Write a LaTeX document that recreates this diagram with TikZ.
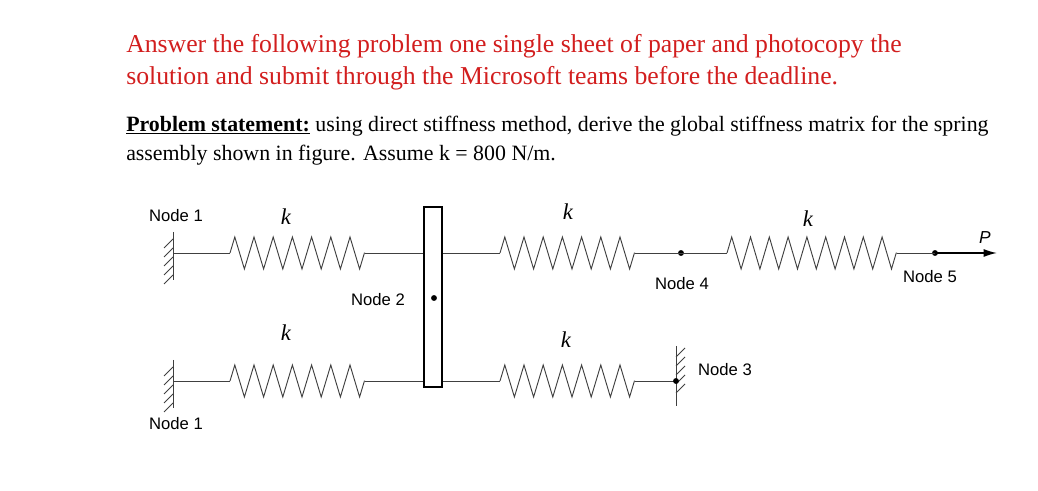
\documentclass[tikz,border=0pt]{standalone}
\usepackage{fontspec}
\setmainfont{Liberation Serif}
\newfontfamily\labelfont{Liberation Sans}
\usetikzlibrary{decorations.pathmorphing,arrows.meta}
\definecolor{notered}{RGB}{210,30,30}
\tikzset{
  spring/.style={decorate,decoration={zigzag,amplitude=12pt,segment length=#1}},
  lbl/.style={font=\labelfont\fontsize{12.5}{12.5}\selectfont, inner sep=1pt},
  klbl/.style={font=\itshape\fontsize{17}{17}\selectfont, inner sep=1pt},
  wire/.style={draw=black!75, line width=0.7pt},
}
\begin{document}
\begin{tikzpicture}[x=0.75pt,y=-0.75pt]
  \useasboundingbox (0,0) rectangle (1038,491);
  % Header text
  \node[anchor=west, text=notered, font=\fontsize{19.3}{19.3}\selectfont, inner sep=0pt] (head1) at (126,46)
    {Answer the following problem one single sheet of paper and photocopy the};
  \node[anchor=west, text=notered, font=\fontsize{19.3}{19.3}\selectfont, inner sep=0pt] (head2) at (126,78)
    {solution and submit through the Microsoft teams before the deadline.};
  \node[anchor=west, font=\fontsize{16.4}{16.4}\selectfont, inner sep=0pt] (stat1) at (126,126)
    {\textbf{\underline{Problem statement:}} using direct stiffness method, derive the global stiffness matrix for the spring};
  \node[anchor=west, font=\fontsize{16.4}{16.4}\selectfont, inner sep=0pt] (stat2) at (126,155)
    {assembly shown in figure. Assume k = 800 N/m.};

  % Walls and anchor points
  \coordinate (W1) at (173,253);
  \coordinate (W1b) at (173,381);
  \coordinate (W3) at (676,381);
  \foreach \w in {W1,W1b} {
    \draw[wire] (\w) ++(0,-21) -- ++(0,48);
    \foreach \s in {-14,-5,...,26} \draw[wire, line width=0.6pt] (\w) ++(0,\s) -- ++(-9,9);
  }
  \draw[wire] (W3) ++(0,-35) -- ++(0,60);
  \foreach \s in {-24,-15,...,16} \draw[wire, line width=0.6pt] (W3) ++(0,\s) -- ++(9,-9);

  % Rigid bar
  \node[draw, line width=0.8pt, minimum width=13.5pt, minimum height=135pt, inner sep=0pt] (bar) at (433,297) {};
  \fill (434,298) circle (2.2pt) coordinate (N2);
  \node[lbl] (n2) at (378,300) {Node 2};

  % Upper spring 1
  \coordinate (a1) at (230,253); \coordinate (b1) at (365,253);
  \draw[wire] (W1) -- (a1);
  \draw[wire, spring=14.4pt] (a1) -- (b1);
  \draw[wire] (b1) -- (bar.west |- b1);
  % Lower spring 1
  \coordinate (a2) at (230,381); \coordinate (b2) at (365,381);
  \draw[wire] (W1b) -- (a2);
  \draw[wire, spring=14.4pt] (a2) -- (b2);
  \draw[wire] (b2) -- (bar.west |- b2);
  % Upper spring 2
  \coordinate (a3) at (500,253); \coordinate (b3) at (635,253);
  \fill (681,253) circle (2.2pt) coordinate (N4);
  \draw[wire] (bar.east |- a3) -- (a3);
  \draw[wire, spring=14.4pt] (a3) -- (b3);
  \draw[wire] (b3) -- (N4);
  % Lower spring 2
  \coordinate (a4) at (500,381); \coordinate (b4) at (635,381);
  \draw[wire] (bar.east |- a4) -- (a4);
  \draw[wire, spring=14.4pt] (a4) -- (b4);
  \draw[wire] (b4) -- (W3);
  \fill (W3) circle (2.2pt);
  % Spring 3
  \coordinate (a5) at (727,253); \coordinate (b5) at (897,253);
  \fill (935,253) circle (2.2pt) coordinate (N5);
  \coordinate (tip) at (997,253);
  \draw[wire] (N4) -- (a5);
  \draw[wire, spring=14.1pt] (a5) -- (b5);
  \draw[wire] (b5) -- (N5);
  \draw[line width=1.2pt, -{Latex[length=10pt,width=6pt]}] (N5) -- (tip);

  % Labels
  \node[lbl] (n1a) at (176,216) {Node 1};
  \node[lbl] (n1b) at (176,424) {Node 1};
  \node[lbl] (n3) at (725,370) {Node 3};
  \node[lbl] (n4) at (682,284) {Node 4};
  \node[lbl] (n5) at (930,277) {Node 5};
  \node[lbl, font=\labelfont\itshape\fontsize{13}{13}\selectfont] (p) at (985,238) {P};
  \node[klbl] (k1) at (286,217) {k};
  \node[klbl] (k2) at (568,212) {k};
  \node[klbl] (k3) at (808,219) {k};
  \node[klbl] (k4) at (286,333) {k};
  \node[klbl] (k5) at (566,340) {k};
\end{tikzpicture}
\end{document}
